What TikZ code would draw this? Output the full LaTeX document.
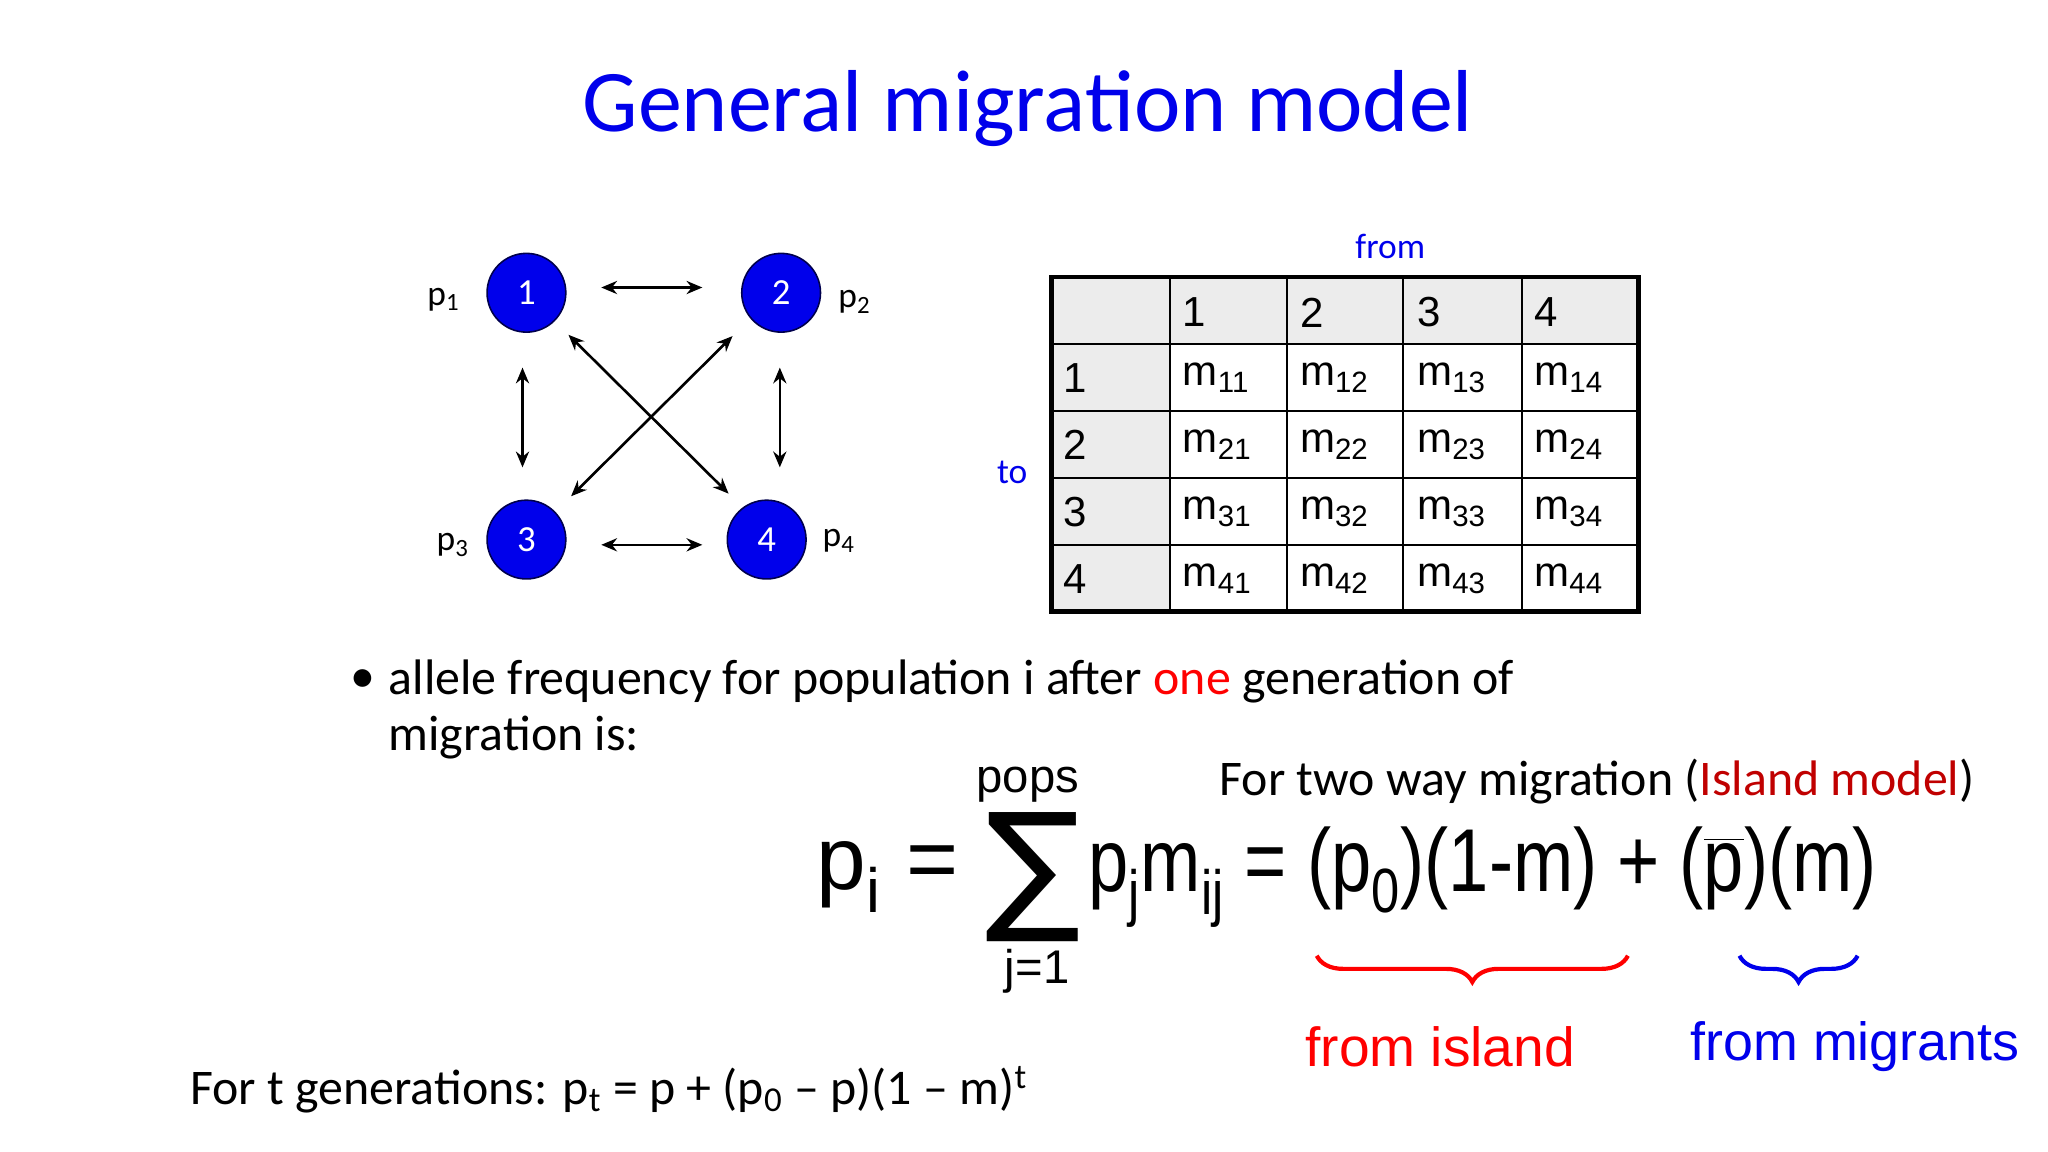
\documentclass[tikz,border=0pt]{standalone}
\usepackage{fontspec}
\setmainfont{Carlito}
\newfontfamily\arialf{Liberation Sans}
\newfontfamily\dejavu{DejaVu Sans}
\usetikzlibrary{decorations.pathreplacing,arrows.meta}
\definecolor{tblue}{RGB}{0,0,235}
\definecolor{tred}{RGB}{255,0,0}
\definecolor{dred}{RGB}{192,0,0}
\definecolor{cellgrey}{RGB}{236,236,236}
\tikzset{
  pop/.style={circle,fill=tblue,draw=black!70!blue,line width=0.6pt,minimum size=30pt,inner sep=0pt,text=white,font=\fontsize{14}{16}\selectfont},
  plab/.style={font=\fontsize{13.5}{15}\selectfont},
  mig/.style={{Stealth[length=6pt,width=5pt]}-{Stealth[length=6pt,width=5pt]},line width=1pt},
  cell/.style={anchor=west,font=\arialf\fontsize{16}{18}\selectfont},
  body/.style={font=\fontsize{19}{23}\selectfont},
  brc/.style={decorate,decoration={brace,mirror,amplitude=10pt},line width=1.6pt},
}
\begin{document}
\begin{tikzpicture}[x=0.5pt,y=-0.5pt]
\useasboundingbox (0,0) rectangle (1560,877.5);
\node[text=tblue,font=\fontsize{33.5}{38}\selectfont] (title) at (783,83) {General migration model};
% populations
\node[pop] (n1) at (401,223) {1};
\node[pop] (n2) at (595,223) {2};
\node[pop] (n3) at (401,411) {3};
\node[pop] (n4) at (584,411) {4};
\node[plab] (l1) at (338,228) {p\textsubscript{1}};
\node[plab] (l2) at (651,230) {p\textsubscript{2}};
\node[plab] (l3) at (345,415) {p\textsubscript{3}};
\node[plab] (l4) at (639,412) {p\textsubscript{4}};
\coordinate (a1) at (458,219); \coordinate (b1) at (535,219);
\coordinate (a2) at (458,415); \coordinate (b2) at (535,415);
\coordinate (a3) at (398,280); \coordinate (b3) at (398,356);
\coordinate (a4) at (594,280); \coordinate (b4) at (594,356);
\coordinate (a5) at (433,255); \coordinate (b5) at (555,376);
\coordinate (a6) at (558,256); \coordinate (b6) at (435,378);
\foreach \i in {1,...,6} \draw[mig] (a\i) -- (b\i);
% table
\fill[cellgrey] (801,211) rectangle (1248,262);
\fill[cellgrey] (801,262) rectangle (891,466);
\foreach \x in {891,980,1069,1159} \draw[line width=0.8pt] (\x,211) -- (\x,466);
\foreach \y in {262,313,364,415} \draw[line width=0.8pt] (801,\y) -- (1248,\y);
\draw[line width=1.8pt] (801,211) rectangle (1248,466);
\foreach \c [count=\k] in {1,2,3,4} {
  \pgfmathsetmacro{\cx}{891+89.25*(\k-1)+3}
  \node[cell] (h\k) at (\cx,238) {\c};
  \pgfmathsetmacro{\ry}{288+51*(\k-1)}
  \node[cell] (r\k) at (803,\ry) {\c};
  \foreach \j in {1,2,3,4} {
    \pgfmathsetmacro{\mx}{891+89.25*(\j-1)+3}
    \node[cell] (m\k\j) at (\mx,\ry) {m\textsubscript{\k\j}};
  }
}
\node[text=tblue,font=\fontsize{13.5}{15}\selectfont] (from) at (1059,188) {from};
\node[text=tblue,font=\fontsize{13.5}{15}\selectfont] (to) at (771,360) {to};
% bullet
\node[body,anchor=west] (bul) at (260,519) {•};
\node[body,anchor=west] (t1) at (289,519) {allele frequency for population i after \textcolor{tred}{one} generation of};
\node[body,anchor=west] (t2) at (289,562) {migration is:};
\node[body,anchor=west] (two) at (922,595) {For two way migration (\textcolor{dred}{Island model})};
% formula
\node[anchor=west,font=\arialf\fontsize{34}{38}\selectfont] (pi) at (615,668) {p\textsubscript{i} =};
\node[font=\dejavu\fontsize{54}{58}\selectfont] (sum) at (787,668) {∑};
\node[font=\arialf\fontsize{18}{20}\selectfont] (pops) at (783,598) {pops};
\node[font=\arialf\fontsize{18}{20}\selectfont] (j1) at (790,740) {j=1};
\node[anchor=west,font=\arialf\fontsize{34}{38}\selectfont] (rest) at (822,668) {\scalebox{0.81}[1]{p\textsubscript{j}m\textsubscript{ij} = (p\textsubscript{0})(1-m) + (\ensuremath{\overline{\hbox{p}}})(m)}};
\coordinate (bl1) at (1003,728); \coordinate (br1) at (1240,728);
\coordinate (bl2) at (1325,728); \coordinate (br2) at (1415,728);
\draw[brc,tred] (bl1) -- (br1);
\draw[brc,tblue] (bl2) -- (br2);
\node[text=tred,font=\arialf\fontsize{21}{24}\selectfont] (fi) at (1097,797) {from island};
\node[text=tblue,font=\arialf\fontsize{20.5}{24}\selectfont] (fm) at (1413,797) {from migrants};
\node[body,anchor=west] (tg) at (138,830) {For t generations: p\textsubscript{t} = p + (p\textsubscript{0} – p)(1 – m)\textsuperscript{t}};
\end{tikzpicture}
\end{document}
